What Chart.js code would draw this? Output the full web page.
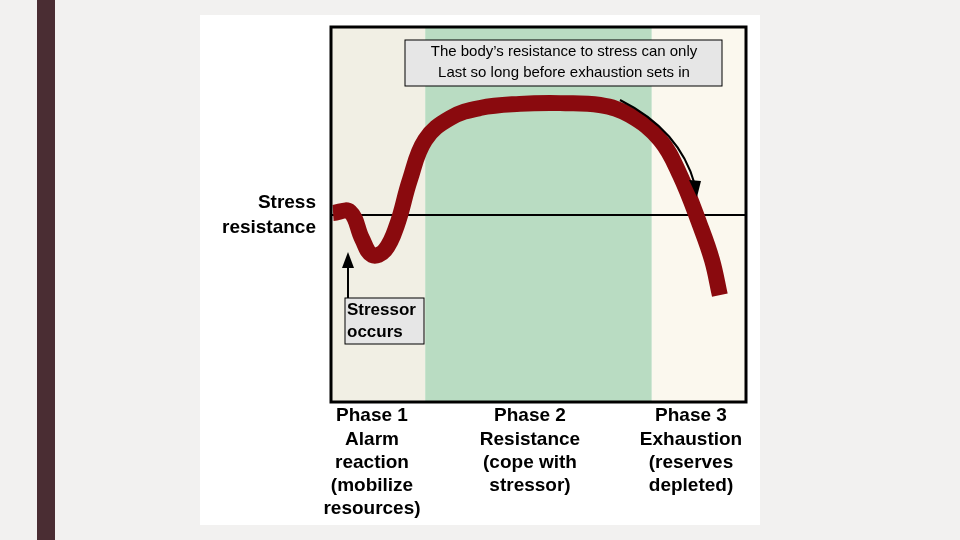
<!DOCTYPE html>
<html>
<head>
<meta charset="utf-8">
<script src="https://cdn.jsdelivr.net/npm/chart.js@4/dist/chart.umd.min.js"></script>
<style>
  html, body { margin: 0; padding: 0; background: #f2f1f0; }
  #wrap { position: relative; width: 960px; height: 540px; }
</style>
</head>
<body>
<div id="wrap"><canvas id="c" width="960" height="540"></canvas></div>
<script>
// Time axis 0..100, resistance 0..100
const curveX = [0.5, 4.6, 7.5, 9.9, 13, 15.9, 19, 22.7, 28.7, 35.9, 45.5, 55.2, 64.8, 72, 79.3, 84.1, 88.9, 91.8, 93.7];
const curveY = [50.4, 50.7, 43.5, 39.2, 40.5, 47.2, 59.2, 69.9, 75.7, 78.4, 79.5, 79.7, 79.2, 76.5, 69.9, 60.5, 47.2, 37.9, 28.5];
const baseline = 49.9;
const phaseBounds = [0, 22.7, 77.3, 100];
const phaseColors = ['#f1efe4', '#b9dcc2', '#fbf8ee'];
const phaseLabels = [
  ['Phase 1', 'Alarm', 'reaction', '(mobilize', 'resources)'],
  ['Phase 2', 'Resistance', '(cope with', 'stressor)'],
  ['Phase 3', 'Exhaustion', '(reserves', 'depleted)']
];
const calloutLines = ['The body\u2019s resistance to stress can only', 'Last so long before exhaustion sets in'];

const decor = {
  id: 'decor',
  beforeDraw(chart) {
    const { ctx, chartArea: a, scales: { x, y } } = chart;
    ctx.save();
    ctx.fillStyle = '#4a2d33';
    ctx.fillRect(37, 0, 18, 540);
    ctx.fillStyle = '#ffffff';
    ctx.fillRect(200, 15, 560, 510);
    for (let i = 0; i < 3; i++) {
      ctx.fillStyle = phaseColors[i];
      ctx.fillRect(x.getPixelForValue(phaseBounds[i]), a.top, x.getPixelForValue(phaseBounds[i + 1]) - x.getPixelForValue(phaseBounds[i]), a.bottom - a.top);
    }
    ctx.strokeStyle = '#000';
    ctx.lineWidth = 2;
    ctx.beginPath();
    ctx.moveTo(a.left, y.getPixelForValue(baseline));
    ctx.lineTo(a.right, y.getPixelForValue(baseline));
    ctx.stroke();
    ctx.restore();
  },
  afterDraw(chart) {
    const { ctx, chartArea: a } = chart;
    ctx.save();
    ctx.strokeStyle = '#000';
    ctx.lineWidth = 3;
    ctx.strokeRect(a.left, a.top, a.right - a.left, a.bottom - a.top);

    // callout box
    ctx.fillStyle = '#e6e6e6';
    ctx.fillRect(405, 40, 317, 46);
    ctx.lineWidth = 1;
    ctx.strokeRect(405, 40, 317, 46);
    ctx.fillStyle = '#000';
    ctx.font = '15px "Liberation Sans", Arial, sans-serif';
    ctx.textAlign = 'center';
    ctx.textBaseline = 'middle';
    ctx.fillText(calloutLines[0], 564, 52);
    ctx.fillText(calloutLines[1], 564, 73);

    // curved arrow
    ctx.lineWidth = 2;
    ctx.beginPath();
    ctx.moveTo(620, 100);
    ctx.quadraticCurveTo(680, 130, 695, 185);
    ctx.stroke();
    ctx.beginPath();
    ctx.moveTo(697, 197); ctx.lineTo(689, 180); ctx.lineTo(701, 181); ctx.closePath();
    ctx.fill();

    // stressor arrow and box
    ctx.beginPath();
    ctx.moveTo(348, 300); ctx.lineTo(348, 265); ctx.stroke();
    ctx.beginPath();
    ctx.moveTo(348, 252); ctx.lineTo(342, 268); ctx.lineTo(354, 268); ctx.closePath();
    ctx.fill();
    ctx.fillStyle = '#e6e6e6';
    ctx.fillRect(345, 298, 79, 46);
    ctx.lineWidth = 1;
    ctx.strokeRect(345, 298, 79, 46);
    ctx.fillStyle = '#000';
    ctx.font = 'bold 17px "Liberation Sans", Arial, sans-serif';
    ctx.textAlign = 'left';
    ctx.fillText('Stressor', 347, 310);
    ctx.fillText('occurs', 347, 332);

    // y label
    ctx.font = 'bold 19px "Liberation Sans", Arial, sans-serif';
    ctx.textAlign = 'right';
    ctx.fillText('Stress', 316, 203);
    ctx.fillText('resistance', 316, 228);

    // phase labels
    ctx.textAlign = 'center';
    const centers = [372, 530, 691];
    phaseLabels.forEach((lines, i) => {
      lines.forEach((t, j) => ctx.fillText(t, centers[i], 416 + j * 23.3));
    });
    ctx.restore();
  }
};

new Chart(document.getElementById('c'), {
  type: 'line',
  data: {
    datasets: [{
      data: curveX.map((v, i) => ({ x: v, y: curveY[i] })),
      borderColor: '#8a0a0e',
      borderWidth: 16,
      borderCapStyle: 'butt',
      borderJoinStyle: 'round',
      tension: 0.4,
      pointRadius: 0
    }]
  },
  options: {
    responsive: false,
    animation: false,
    layout: { padding: { left: 331, top: 27, right: 214, bottom: 138 } },
    plugins: { legend: { display: false }, tooltip: { enabled: false } },
    scales: {
      x: { type: 'linear', min: 0, max: 100, display: false },
      y: { min: 0, max: 100, display: false }
    }
  },
  plugins: [decor]
});
</script>
</body>
</html>
